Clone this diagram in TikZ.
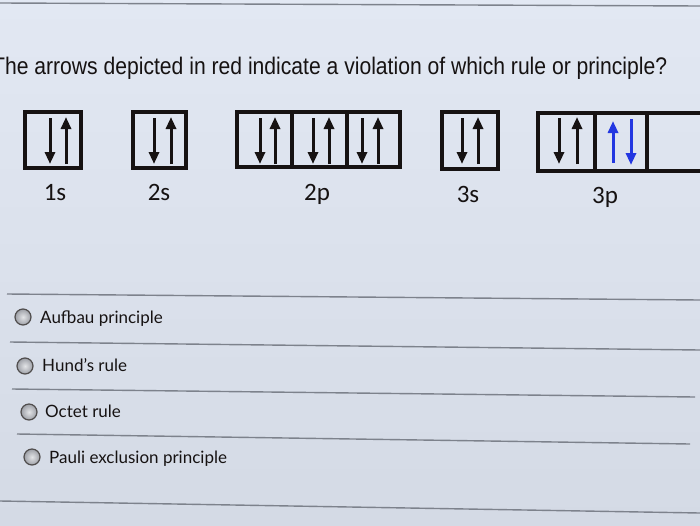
\documentclass[tikz,border=0pt]{standalone}
\usepackage{fontspec}
\setmainfont{Liberation Sans}
\newfontfamily\latofont{Lato}
\newfontfamily\carlfont{Carlito}
\usetikzlibrary{arrows.meta}
\definecolor{bgtop}{RGB}{226,232,243}
\definecolor{bgbot}{RGB}{212,218,229}
\definecolor{ruleline}{RGB}{125,130,140}
\definecolor{ink}{RGB}{22,18,18}
\definecolor{spinblue}{RGB}{35,55,225}
\definecolor{radiofill}{RGB}{185,188,196}
\begin{document}
\begin{tikzpicture}[x=1pt,y=-1pt,
  orbbox/.style={draw=ink, line width=3.2pt},
  spin/.style={draw=ink, line width=3pt, -{Triangle[width=10pt,length=12pt]}},
  bspin/.style={spin, draw=spinblue, fill=spinblue},
  sep/.style={draw=ruleline, line width=1.4pt},
  orblabel/.style={font=\carlfont\fontsize{25}{28}\selectfont, text=ink, anchor=base, inner sep=0pt},
  opt/.style={font=\latofont\fontsize{17}{20}\selectfont, text=ink, anchor=base west, inner sep=0pt},
  radio/.style={circle, draw=ink!75, line width=1.2pt, inner color=radiofill!40, outer color=radiofill!85!black, minimum size=16pt, inner sep=0pt}
]
\useasboundingbox (0,0) rectangle (700,525);
\clip (0,0) rectangle (700,525);
\shade[top color=bgtop, bottom color=bgbot] (0,0) rectangle (700,525);

% horizontal rules
\coordinate (t0) at (0,3); \coordinate (t1) at (700,6);
\draw[sep] (t0) -- (t1);
\coordinate (l1a) at (7,294); \coordinate (l1b) at (700,300);
\coordinate (l2a) at (10,342); \coordinate (l2b) at (700,350);
\coordinate (l3a) at (12,389); \coordinate (l3b) at (695,397);
\coordinate (l4a) at (17,434); \coordinate (l4b) at (690,444);
\coordinate (l5a) at (0,501); \coordinate (l5b) at (700,513);
\foreach \a/\b in {l1a/l1b,l2a/l2b,l3a/l3b,l4a/l4b,l5a/l5b} \draw[sep] (\a) -- (\b);

% title
\node[anchor=base west, inner sep=0pt, text=ink, xscale=0.88] (title) at (-8,74)
  {\fontsize{24}{28}\selectfont The arrows depicted in red indicate a violation of which rule or principle?};

% orbital boxes
\draw[orbbox] (25,112) rectangle (81,168);
\draw[orbbox] (133,112) rectangle (186,168);
\draw[orbbox] (237,112) rectangle (400,167);
\draw[orbbox] (292,112) -- (292,167);
\draw[orbbox] (347,112) -- (347,167);
\draw[orbbox] (442,112) rectangle (498,169);
\draw[orbbox] (538,113) rectangle (706,171);
\draw[orbbox] (595,113) -- (595,171);
\draw[orbbox] (647,113) -- (647,171);

% black spin pairs: down x, up x
\foreach \d/\u in {50/66, 154/171, 260/275, 313/329, 362/378, 462/478, 559/577}{
  \draw[spin] (\d,118) -- (\d,164);
  \draw[spin] (\u,164) -- (\u,117);
}
% blue pair
\draw[bspin] (613,163) -- (613,121);
\draw[bspin] (631,119) -- (631,165);

% orbital labels
\node[orblabel] (l1s) at (55,200) {1s};
\node[orblabel] (l2s) at (159,200) {2s};
\node[orblabel] (l2p) at (317,200) {2p};
\node[orblabel] (l3s) at (468,202) {3s};
\node[orblabel] (l3p) at (605,203) {3p};

% options
\node[radio] (r1) at (23,317) {};
\node[radio] (r2) at (25,366) {};
\node[radio] (r3) at (29,412) {};
\node[radio] (r4) at (32,457) {};
\node[opt] (o1) at (40,323) {Aufbau principle};
\node[opt] (o2) at (42,371) {Hund’s rule};
\node[opt] (o3) at (45,417) {Octet rule};
\node[opt] (o4) at (49,463) {Pauli exclusion principle};
\end{tikzpicture}
\end{document}
